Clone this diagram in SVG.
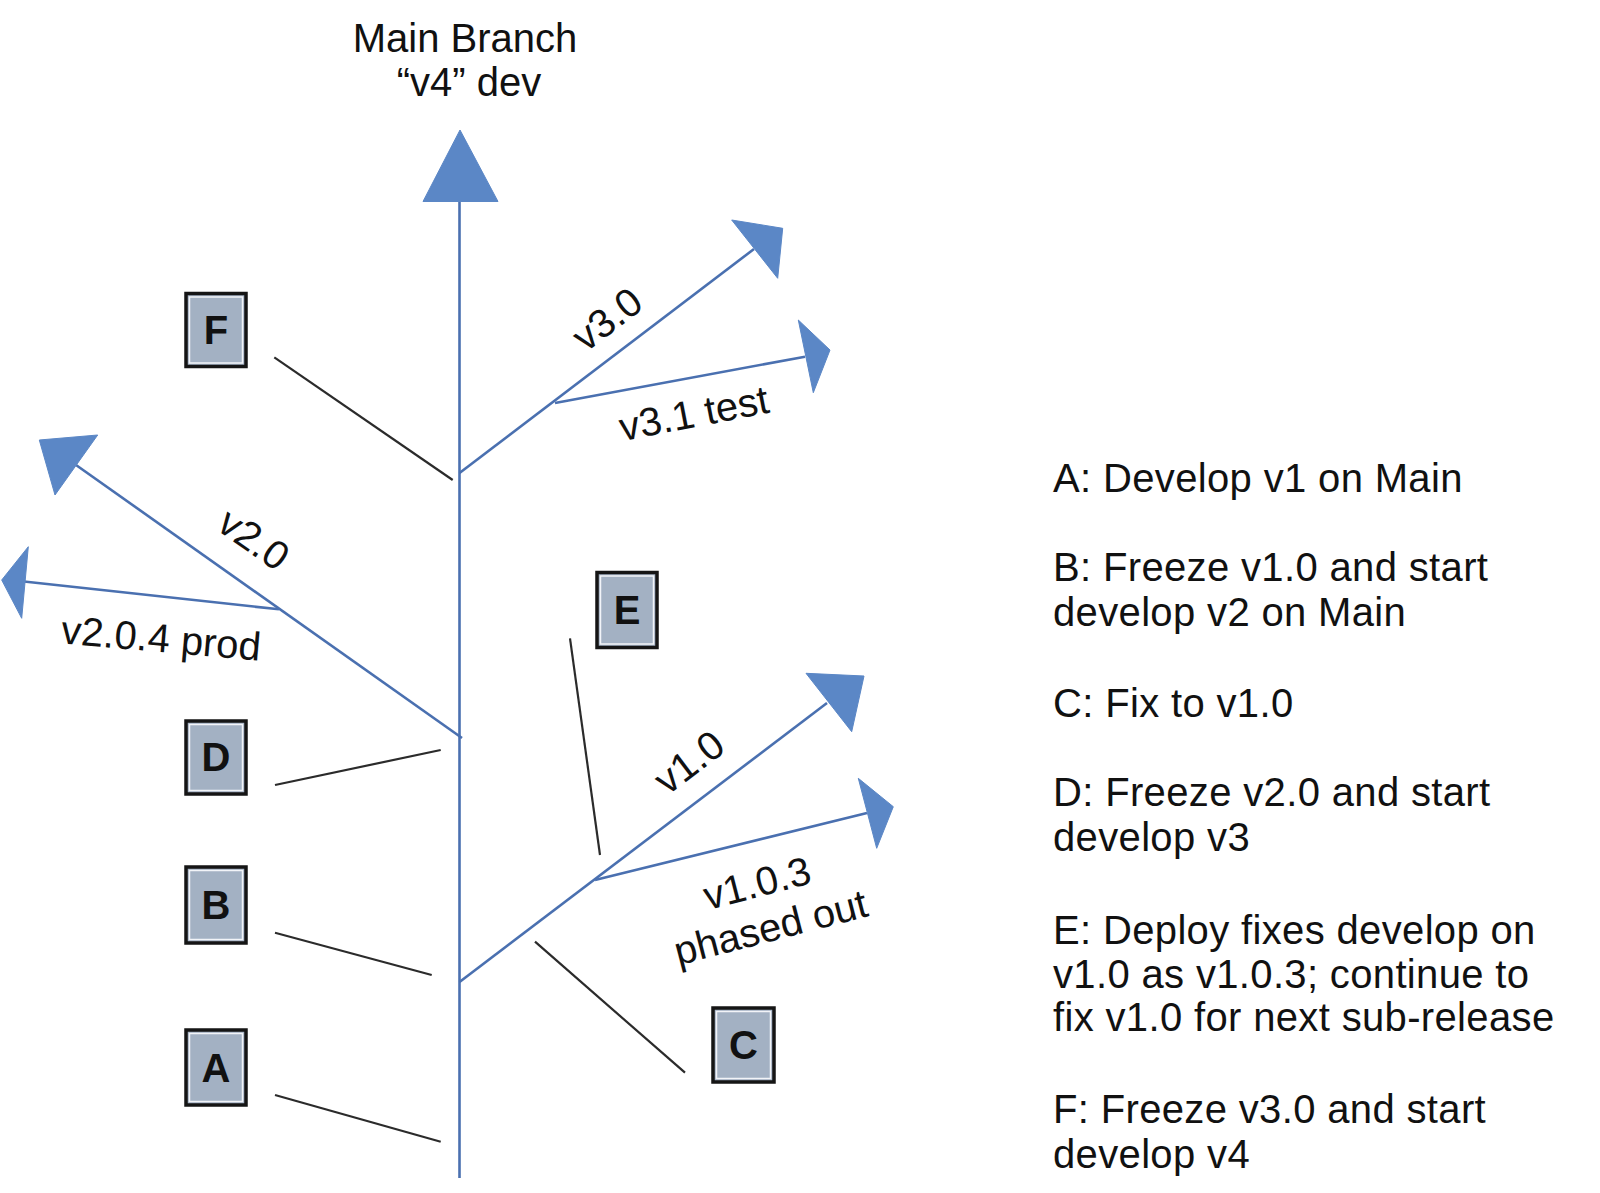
<svg xmlns="http://www.w3.org/2000/svg" width="1600" height="1193" viewBox="0 0 1600 1193">
<style>
text{font-family:"Liberation Sans",Arial,sans-serif;font-size:40px;fill:#111}
.box{fill:#a3b1c3;stroke:#151515;stroke-width:3.5}
.inner{fill:none;stroke:#f2f4f8;stroke-width:1.5}
.ltr{font-weight:bold;text-anchor:middle}
.br{stroke:#4a70b0;stroke-width:2.6;fill:none}
.ah{fill:#5b87c6;stroke:#5b87c6;stroke-width:1}
.ln{stroke:#2b2b2b;stroke-width:2.2}
.lbl{text-anchor:middle}
#legend text{letter-spacing:0.35px}
</style>
<rect width="1600" height="1193" fill="#fff"/>
<g id="connectors">
  <line class="br" x1="459.5" y1="1178" x2="459.5" y2="200"/>
  <polygon class="ah" points="460,130 423,201.5 498,201.5"/>
  <line class="br" x1="459.5" y1="473" x2="754" y2="249"/>
  <polygon class="ah" points="731.7,220 782.7,228.3 777.7,278.3"/>
  <line class="br" x1="555" y1="403" x2="805" y2="356.7"/>
  <polygon class="ah" points="798.3,320 830,350 813.3,392.7"/>
  <line class="br" x1="462" y1="738" x2="76" y2="465"/>
  <polygon class="ah" points="39.3,440 97.7,435 55,495"/>
  <line class="br" x1="279" y1="609.3" x2="24" y2="581.5"/>
  <polygon class="ah" points="28.3,546.7 1.7,580 21.7,618.3"/>
  <line class="br" x1="459.5" y1="982" x2="827" y2="703"/>
  <polygon class="ah" points="806,673.3 864,676 851.7,731.7"/>
  <line class="br" x1="595" y1="880" x2="867" y2="813"/>
  <polygon class="ah" points="858.3,778.3 893.3,806.7 876.7,848.3"/>
  <line class="ln" x1="274.3" y1="357.3" x2="452.7" y2="480"/>
  <line class="ln" x1="275" y1="785" x2="440.7" y2="750"/>
  <line class="ln" x1="275" y1="932.7" x2="431.7" y2="975"/>
  <line class="ln" x1="275" y1="1095" x2="440.7" y2="1141.7"/>
  <line class="ln" x1="570" y1="638.3" x2="600" y2="855"/>
  <line class="ln" x1="535" y1="941.7" x2="685" y2="1072.7"/>
</g>
<g id="labels">
  <text x="465" y="52" class="lbl">Main Branch</text>
  <text x="469" y="96" class="lbl">“v4” dev</text>
  <text class="lbl" transform="translate(607,319) rotate(-37.3)" y="14">v3.0</text>
  <text class="lbl" transform="translate(694,414) rotate(-11)" y="13">v3.1 test</text>
  <text class="lbl" transform="translate(254,539) rotate(35)" y="14">v2.0</text>
  <text class="lbl" transform="translate(161,640) rotate(5)" y="12">v2.0.4 prod</text>
  <text class="lbl" transform="translate(689,762) rotate(-37.2)" y="14">v1.0</text>
  <text class="lbl" transform="translate(757,883) rotate(-14.5)" y="14">v1.0.3</text>
  <text class="lbl" transform="translate(771,929) rotate(-14.5)" y="12">phased out</text>
</g>
<g id="node-F"><rect class="box" x="186" y="293.5" width="60" height="73"/><rect class="inner" x="189.5" y="297" width="53" height="66"/><text class="ltr" x="216" y="344">F</text></g>
<g id="node-D"><rect class="box" x="186" y="721" width="60" height="73"/><rect class="inner" x="189.5" y="724.5" width="53" height="66"/><text class="ltr" x="216" y="771">D</text></g>
<g id="node-B"><rect class="box" x="186" y="867" width="60" height="76"/><rect class="inner" x="189.5" y="870.5" width="53" height="69"/><text class="ltr" x="216" y="919">B</text></g>
<g id="node-A"><rect class="box" x="186" y="1030" width="60" height="75"/><rect class="inner" x="189.5" y="1033.5" width="53" height="68"/><text class="ltr" x="216" y="1082">A</text></g>
<g id="node-E"><rect class="box" x="597" y="572.5" width="60" height="75"/><rect class="inner" x="600.5" y="576" width="53" height="68"/><text class="ltr" x="627" y="624">E</text></g>
<g id="node-C"><rect class="box" x="713" y="1008" width="61" height="74"/><rect class="inner" x="716.5" y="1011.5" width="54" height="67"/><text class="ltr" x="743.5" y="1059">C</text></g>
<g id="legend">
  <text x="1053" y="492">A: Develop v1 on Main</text>
  <text x="1053" y="581">B: Freeze v1.0 and start</text>
  <text x="1053" y="626">develop v2 on Main</text>
  <text x="1053" y="717">C: Fix to v1.0</text>
  <text x="1053" y="806">D: Freeze v2.0 and start</text>
  <text x="1053" y="851">develop v3</text>
  <text x="1053" y="944">E: Deploy fixes develop on</text>
  <text x="1053" y="988">v1.0 as v1.0.3; continue to</text>
  <text x="1053" y="1031">fix v1.0 for next sub-release</text>
  <text x="1053" y="1123">F: Freeze v3.0 and start</text>
  <text x="1053" y="1168">develop v4</text>
</g>
</svg>
